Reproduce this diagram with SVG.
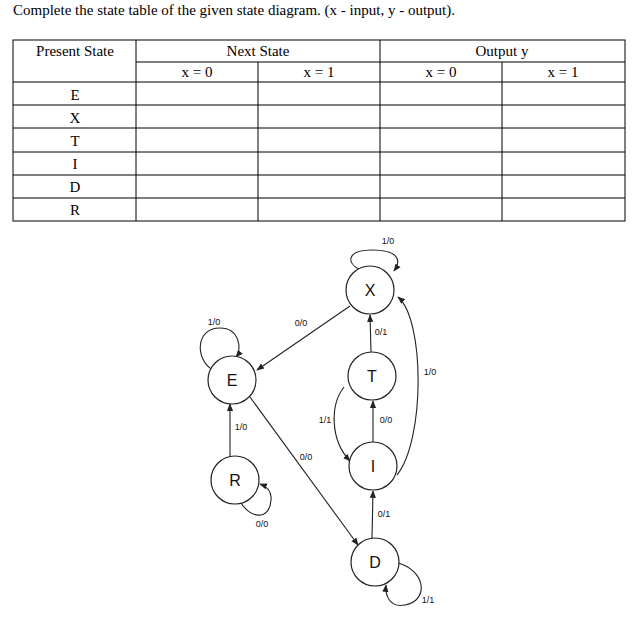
<svg xmlns="http://www.w3.org/2000/svg" width="641" height="618" viewBox="0 0 641 618">
<style>
.t{font-family:"Liberation Serif",serif;font-size:15px;fill:#000}
.c{text-anchor:middle}
.g{fill:none;stroke:#000;stroke-width:1}
.n{fill:#fff;stroke:#222;stroke-width:1.2}
.nl{font-family:"Liberation Sans",sans-serif;font-size:16px;text-anchor:middle;fill:#111}
.l{font-family:"Liberation Sans",sans-serif;font-size:9px;fill:#111;text-anchor:middle}
.e{fill:none;stroke:#222;stroke-width:1.1;marker-end:url(#a)}
</style>
<defs><marker id="a" viewBox="0 0 10 10" refX="9" refY="5" markerWidth="7" markerHeight="7" orient="auto"><path d="M0,1 L10,5 L0,9 z" fill="#222"/></marker></defs>
<rect width="641" height="618" fill="#fff"/>
<text class="t" x="13" y="15" font-size="16">Complete the state table of the given state diagram. (x - input, y - output).</text>
<g id="table">
<rect class="g" x="13" y="40" width="612" height="181"/>
<path class="g" d="M136,40V221M380,40V221M258,62V221M502,62V221M136,62H625M13,82H625M13,105H625M13,128H625M13,152H625M13,175H625M13,198H625"/>
<text class="t c" x="75" y="56">Present State</text>
<text class="t c" x="258" y="56">Next State</text>
<text class="t c" x="502" y="56">Output y</text>
<text class="t c" x="197" y="77">x = 0</text><text class="t c" x="319" y="77">x = 1</text>
<text class="t c" x="441" y="77">x = 0</text><text class="t c" x="563" y="77">x = 1</text>
<text class="t c" x="75" y="100" font-size="17">E</text><text class="t c" x="75" y="123" font-size="17">X</text>
<text class="t c" x="75" y="146" font-size="17">T</text><text class="t c" x="75" y="169" font-size="17">I</text>
<text class="t c" x="75" y="192" font-size="17">D</text><text class="t c" x="75" y="215" font-size="17">R</text>
</g>
<g id="connectors">
<path class="e" d="M360,270 C345,262 348,250 372,250 C398,250 402,260 394,271"/>
<path class="e" d="M350,306 L257,370"/>
<path class="e" d="M371,352 L370,315"/>
<path class="e" d="M397,475 C425,440 425,320 398,297"/>
<path class="e" d="M344,387 C330,405 330,440 350,461"/>
<path class="e" d="M373,442 L373,401"/>
<path class="e" d="M372,538 L373,491"/>
<path class="e" d="M213,370 C195,360 195,328 220,328 C240,328 242,350 236,357"/>
<path class="e" d="M230,457 L230,404"/>
<path class="e" d="M250,397 L358,545"/>
<path class="e" d="M240,501 C250,520 270,520 271,500 C272,492 268,487 260,484"/>
<path class="e" d="M398,563 C425,570 430,600 405,605 C390,608 385,596 386,585"/>
</g>
<g id="labels">
<text class="l" x="388" y="244">1/0</text>
<text class="l" x="301" y="326">0/0</text>
<text class="l" x="381" y="335">0/1</text>
<text class="l" x="430" y="375">1/0</text>
<text class="l" x="325" y="423">1/1</text>
<text class="l" x="386" y="423">0/0</text>
<text class="l" x="214" y="325">1/0</text>
<text class="l" x="241" y="430">1/0</text>
<text class="l" x="306" y="460">0/0</text>
<text class="l" x="262" y="527">0/0</text>
<text class="l" x="384" y="517">0/1</text>
<text class="l" x="428" y="603">1/1</text>
</g>
<g id="X"><circle class="n" cx="370" cy="290" r="24"/><text class="nl" x="370" y="296">X</text></g>
<g id="T"><circle class="n" cx="372" cy="376" r="24"/><text class="nl" x="372" y="382">T</text></g>
<g id="I"><circle class="n" cx="373" cy="466" r="24"/><text class="nl" x="373" y="472">I</text></g>
<g id="D"><circle class="n" cx="375" cy="562" r="24"/><text class="nl" x="375" y="568">D</text></g>
<g id="E"><circle class="n" cx="232" cy="380" r="24"/><text class="nl" x="232" y="386">E</text></g>
<g id="R"><circle class="n" cx="235" cy="480" r="24"/><text class="nl" x="235" y="486">R</text></g>
</svg>
